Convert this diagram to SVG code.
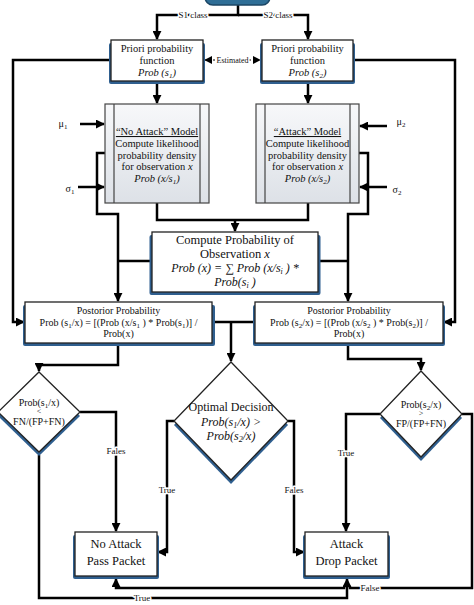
<svg xmlns="http://www.w3.org/2000/svg" width="474" height="605" viewBox="0 0 474 605">
<style>
text{font-family:"Liberation Serif","Times New Roman",serif;fill:#111;text-anchor:middle}
.box{fill:#fff;stroke:#222;stroke-width:1.3}
.sh{fill:#2F5F8F}
.mdl{fill:url(#mg);stroke:#444;stroke-width:1.2}
.c{fill:none;stroke:#000;stroke-width:2.5}
.a{marker-end:url(#arr)}
.lbl{font-size:9px;stroke:#fff;stroke-width:3px;paint-order:stroke;stroke-linejoin:round}
.it{font-style:italic}
</style>
<defs>
<marker id="arr" viewBox="0 0 10 10" refX="9" refY="5" markerWidth="9" markerHeight="9" markerUnits="userSpaceOnUse" orient="auto"><path d="M0,0 L10,5 L0,10 z" fill="#000"/></marker>
<marker id="sarr" viewBox="0 0 10 10" refX="9" refY="5" markerWidth="8" markerHeight="8" markerUnits="userSpaceOnUse" orient="auto-start-reverse"><path d="M0,0 L10,5 L0,10 z" fill="#000"/></marker>
<linearGradient id="mg" x1="0" y1="0" x2="0" y2="1"><stop offset="0" stop-color="#f7f8fa"/><stop offset="1" stop-color="#dde1e7"/></linearGradient>
</defs>

<g id="connectors">
<path class="c a" d="M238,4 V15 H157 V39"/>
<path class="c a" d="M238,15 H308 V39"/>
<path class="c a" d="M157,84 V103"/>
<path class="c a" d="M308,84 V103"/>
<path d="M205,60 H260" fill="none" stroke="#000" stroke-width="1" stroke-dasharray="2,2" marker-start="url(#sarr)" marker-end="url(#sarr)"/>
<path class="c a" d="M111,60 H13 V322 H24"/>
<path class="c a" d="M353,60 H455 V322 H444"/>
<path class="c a" d="M80,124 H104"/>
<path class="c a" d="M78,187 H104"/>
<path class="c a" d="M387,126 H360"/>
<path class="c a" d="M387,187 H360"/>
<path class="c a" d="M105,153 H97 V214 H118 V301"/>
<path class="c" d="M152,261 H118"/>
<path class="c a" d="M359,153 H368 V214 H348 V301"/>
<path class="c" d="M318,261 H348"/>
<path class="c" d="M157,203 V220 H308 V203"/>
<path class="c a" d="M235,220 V231"/>
<path class="c" d="M212,322 H255"/>
<path class="c a" d="M231,322 V361"/>
<path class="c a" d="M118,346 V365 H39 V371"/>
<path class="c a" d="M348,346 V359 H421 V370"/>
<path class="c a" d="M80,412 H116 V531"/>
<path class="c a" d="M39,455 V598 H347 V579"/>
<path class="c a" d="M462,414 H472 V588 H350 A3,3 0 0 0 344,588 H116 V579"/>
<path class="c a" d="M174,421 H167 V552 H158"/>
<path class="c a" d="M288,421 H294 V552 H304"/>
<path class="c a" d="M380,414 H346 V531"/>
<text class="lbl" x="193" y="18">S1 class</text>
<text class="lbl" x="278" y="18">S2 class</text>
<text class="lbl" x="232.5" y="63" style="font-size:8px">Estimated</text>
<text class="lbl" x="116" y="454">Fales</text>
<text class="lbl" x="167" y="493">True</text>
<text class="lbl" x="294" y="493">Fales</text>
<text class="lbl" x="346" y="456">True</text>
<text class="lbl" x="142" y="601">True</text>
<text class="lbl" x="370" y="591">False</text>
</g>

<g id="start">
<rect x="205" y="-20" width="65" height="25" rx="8" fill="#2F6E96" stroke="#1C4766" stroke-width="1.5"/>
</g>

<g id="params" style="font-size:10px">
<text x="63" y="127">μ<tspan font-size="7" dy="2">1</tspan></text>
<text x="70" y="192">σ<tspan font-size="7" dy="2">1</tspan></text>
<text x="401" y="125">μ<tspan font-size="7" dy="2">2</tspan></text>
<text x="397" y="193">σ<tspan font-size="7" dy="2">2</tspan></text>
</g>

<g id="priori1">
<rect class="sh" x="109" y="43" width="96" height="41" rx="2"/>
<rect class="box" x="111" y="40" width="92" height="41"/>
<g style="font-size:10.5px">
<text x="157" y="52">Priori probability</text>
<text x="157" y="64">function</text>
<text class="it" x="157" y="76">Prob (s<tspan font-size="7" dy="2">1</tspan><tspan dy="-2">)</tspan></text>
</g>
</g>

<g id="priori2">
<rect class="sh" x="260" y="43" width="95" height="41" rx="2"/>
<rect class="box" x="262" y="40" width="91" height="41"/>
<g style="font-size:10.5px">
<text x="307.5" y="52">Priori probability</text>
<text x="307.5" y="64">function</text>
<text class="it" x="307.5" y="76">Prob (s<tspan font-size="7" dy="2">2</tspan><tspan dy="-2">)</tspan></text>
</g>
</g>

<g id="model1">
<rect class="mdl" x="105" y="104" width="104" height="99"/>
<path d="M114,104 V203 M200,104 V203" stroke="#444" stroke-width="1.2"/>
<g style="font-size:10.5px">
<text x="157" y="135" text-decoration="underline">“No Attack” Model</text>
<text x="157" y="147">Compute likelihood</text>
<text x="157" y="158.5">probability density</text>
<text x="157" y="170">for observation <tspan class="it">x</tspan></text>
<text class="it" x="157" y="182">Prob (x/s<tspan font-size="7" dy="2">1</tspan><tspan dy="-2">)</tspan></text>
</g>
</g>

<g id="model2">
<rect class="mdl" x="256" y="104" width="103" height="99"/>
<path d="M265,104 V203 M350,104 V203" stroke="#444" stroke-width="1.2"/>
<g style="font-size:10.5px">
<text x="307.5" y="135" text-decoration="underline">“Attack” Model</text>
<text x="307.5" y="147">Compute likelihood</text>
<text x="307.5" y="158.5">probability density</text>
<text x="307.5" y="170">for observation <tspan class="it">x</tspan></text>
<text class="it" x="307.5" y="182">Prob (x/s<tspan font-size="7" dy="2">2</tspan><tspan dy="-2">)</tspan></text>
</g>
</g>

<g id="compute">
<rect class="sh" x="149.5" y="235" width="171" height="60" rx="2"/>
<rect class="box" x="152" y="232" width="166" height="60"/>
<text x="235" y="244" style="font-size:12.5px">Compute Probability of</text>
<text x="235" y="258" style="font-size:12.5px">Observation <tspan class="it">x</tspan></text>
<text class="it" x="235" y="272" style="font-size:12px">Prob (x) = ∑ Prob (x/s<tspan font-size="8" dy="2">i</tspan><tspan dy="-2"> ) *</tspan></text>
<text class="it" x="235" y="286" style="font-size:12px">Prob(s<tspan font-size="8" dy="2">i</tspan><tspan dy="-2"> )</tspan></text>
</g>

<g id="post1">
<rect class="sh" x="23" y="305" width="192" height="41" rx="2"/>
<rect class="box" x="25" y="302" width="187" height="41"/>
<g style="font-size:10px">
<text x="118.5" y="313.5">Postorior Probability</text>
<text x="118.5" y="325.5">Prob (s<tspan font-size="7" dy="2">1</tspan><tspan dy="-2">/x) = [(Prob (x/s</tspan><tspan font-size="7" dy="2">1</tspan><tspan dy="-2"> ) * Prob(s</tspan><tspan font-size="7" dy="2">1</tspan><tspan dy="-2">)] /</tspan></text>
<text x="118.5" y="337">Prob(x)</text>
</g>
</g>

<g id="post2">
<rect class="sh" x="253" y="305" width="192" height="41" rx="2"/>
<rect class="box" x="255" y="302" width="188" height="41"/>
<g style="font-size:10px">
<text x="349" y="313.5">Postorior Probability</text>
<text x="349" y="325.5">Prob (s<tspan font-size="7" dy="2">2</tspan><tspan dy="-2">/x) = [(Prob (x/s</tspan><tspan font-size="7" dy="2">2</tspan><tspan dy="-2"> ) * Prob(s</tspan><tspan font-size="7" dy="2">2</tspan><tspan dy="-2">)] /</tspan></text>
<text x="349" y="337">Prob(x)</text>
</g>
</g>

<g id="decision1">
<polygon class="sh" points="39,376 80,416 39,456 -2,416"/>
<polygon class="box" points="39,372 80,412 39,452 -2,412"/>
<g style="font-size:10px">
<text x="39" y="406">Prob(s<tspan font-size="7" dy="2">1</tspan><tspan dy="-2">/x)</tspan></text>
<text x="39" y="414" style="font-size:8px">&lt;</text>
<text x="39" y="425">FN/(FP+FN)</text>
</g>
</g>

<g id="decision2">
<polygon class="sh" points="231,366 288,425 231,484 174,425"/>
<polygon class="box" points="231,362 288,421 231,480 174,421"/>
<text x="231" y="411" style="font-size:12px">Optimal Decision</text>
<text class="it" x="231" y="426" style="font-size:12px">Prob(s<tspan font-size="8" dy="2">1</tspan><tspan dy="-2">/x) &gt;</tspan></text>
<text class="it" x="231" y="440" style="font-size:12px">Prob(s<tspan font-size="8" dy="2">2</tspan><tspan dy="-2">/x)</tspan></text>
</g>

<g id="decision3">
<polygon class="sh" points="421,375 462,418 421,461 380,418"/>
<polygon class="box" points="421,371 462,414 421,457 380,414"/>
<g style="font-size:10px">
<text x="421" y="408">Prob(s<tspan font-size="7" dy="2">2</tspan><tspan dy="-2">/x)</tspan></text>
<text x="421" y="416" style="font-size:8px">&gt;</text>
<text x="421" y="427">FP/(FP+FN)</text>
</g>
</g>

<g id="noattack">
<rect class="sh" x="73" y="535" width="86" height="44" rx="2"/>
<rect class="box" x="75" y="532" width="82" height="44"/>
<text x="116" y="548" style="font-size:12.5px">No Attack</text>
<text x="116" y="565" style="font-size:12.5px">Pass Packet</text>
</g>

<g id="attack">
<rect class="sh" x="303" y="535" width="87" height="44" rx="2"/>
<rect class="box" x="305" y="532" width="83" height="44"/>
<text x="346.5" y="548" style="font-size:12.5px">Attack</text>
<text x="346.5" y="565" style="font-size:12.5px">Drop Packet</text>
</g>
</svg>
